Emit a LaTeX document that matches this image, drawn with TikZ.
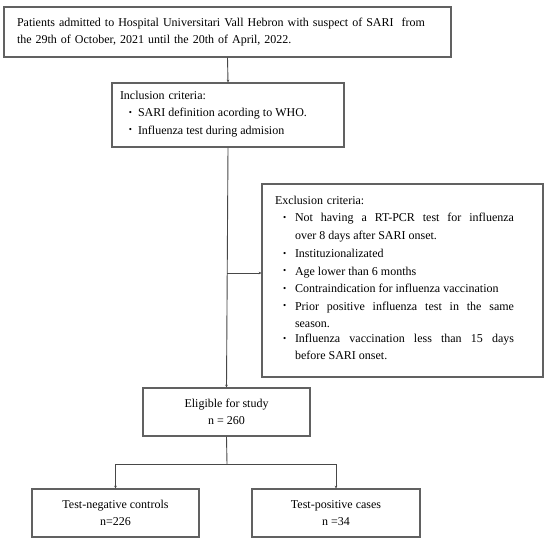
\documentclass[tikz,border=0pt]{standalone}
\usepackage{fontspec}
\setmainfont{Liberation Serif}
\usetikzlibrary{arrows.meta}
\newcommand{\crit}[4]{\par\noindent\hspace*{#1}\makebox[#2][l]{\raisebox{0.25ex}{\fontsize{9}{9}\selectfont\textbullet}}\parbox[t]{#3}{\leftskip=0pt\rightskip=0pt\spaceskip=0pt\xspaceskip=0pt\parfillskip=0pt plus 1fil\hyphenpenalty=10000 #4\strut}\par}
\tikzset{
  box/.style={draw=black!62, line width=1.3pt, inner xsep=0pt, inner ysep=0pt,
    font={\fontsize{12}{17.5}\selectfont}, text=black},
  conn/.style={draw=black!72, line width=0.9pt},
  arr/.style={conn, -{Stealth[length=2.6pt,width=2.6pt]}}
}
\begin{document}
\begin{tikzpicture}[x=1pt,y=-1pt]
\useasboundingbox (0,0) rectangle (550,546);

\node[box, minimum width=447pt, minimum height=50pt, text width=421pt, align=left] (top) at (227.5,32)
  {Patients admitted to Hospital Universitari Vall Hebron with suspect of SARI~ from\\
   the 29th of October, 2021 until the 20th of April, 2022.};

\node[box, minimum width=232pt, minimum height=64pt, text width=216pt, align=left] (incl) at (228,115)
  {Inclusion criteria:
   \crit{9pt}{9pt}{190pt}{SARI definition acording to WHO.}
   \crit{9pt}{9pt}{190pt}{Influenza test during admision}};

\node[box, minimum width=281pt, minimum height=193pt, text width=255pt, align=left] (excl) at (402.5,280.5)
  {Exclusion criteria:
   \crit{8pt}{12pt}{219pt}{Not having a RT-PCR test for influenza\linebreak over 8 days after SARI onset.}
   \crit{8pt}{12pt}{219pt}{Instituzionalizated}
   \crit{8pt}{12pt}{219pt}{Age lower than 6 months}
   \crit{8pt}{12pt}{219pt}{Contraindication for influenza vaccination}
   \crit{8pt}{12pt}{219pt}{Prior positive influenza test in the same\linebreak season.}
   \crit{8pt}{12pt}{219pt}{Influenza vaccination less than 15 days\linebreak before SARI onset.}};

\node[box, minimum width=167pt, minimum height=48pt, align=center] (elig) at (226.5,412)
  {Eligible for study\\ n = 260};

\node[box, minimum width=167pt, minimum height=48pt, align=center] (neg) at (115.5,513)
  {Test-negative controls\\ n=226};

\node[box, minimum width=168pt, minimum height=48pt, align=center] (pos) at (336,513)
  {Test-positive cases\\ n =34};

\coordinate (bx) at (227,273);
\coordinate (br) at (227,464);

\draw[arr] (top.south) -- (incl.north);
\draw[arr] (incl.south) -- (elig.north);
\draw[arr] (bx) -- (bx -| excl.west);
\draw[conn] (elig.south) -- (br);
\draw[arr] (br) -| (neg.north);
\draw[arr] (br) -| (pos.north);
\end{tikzpicture}
\end{document}
